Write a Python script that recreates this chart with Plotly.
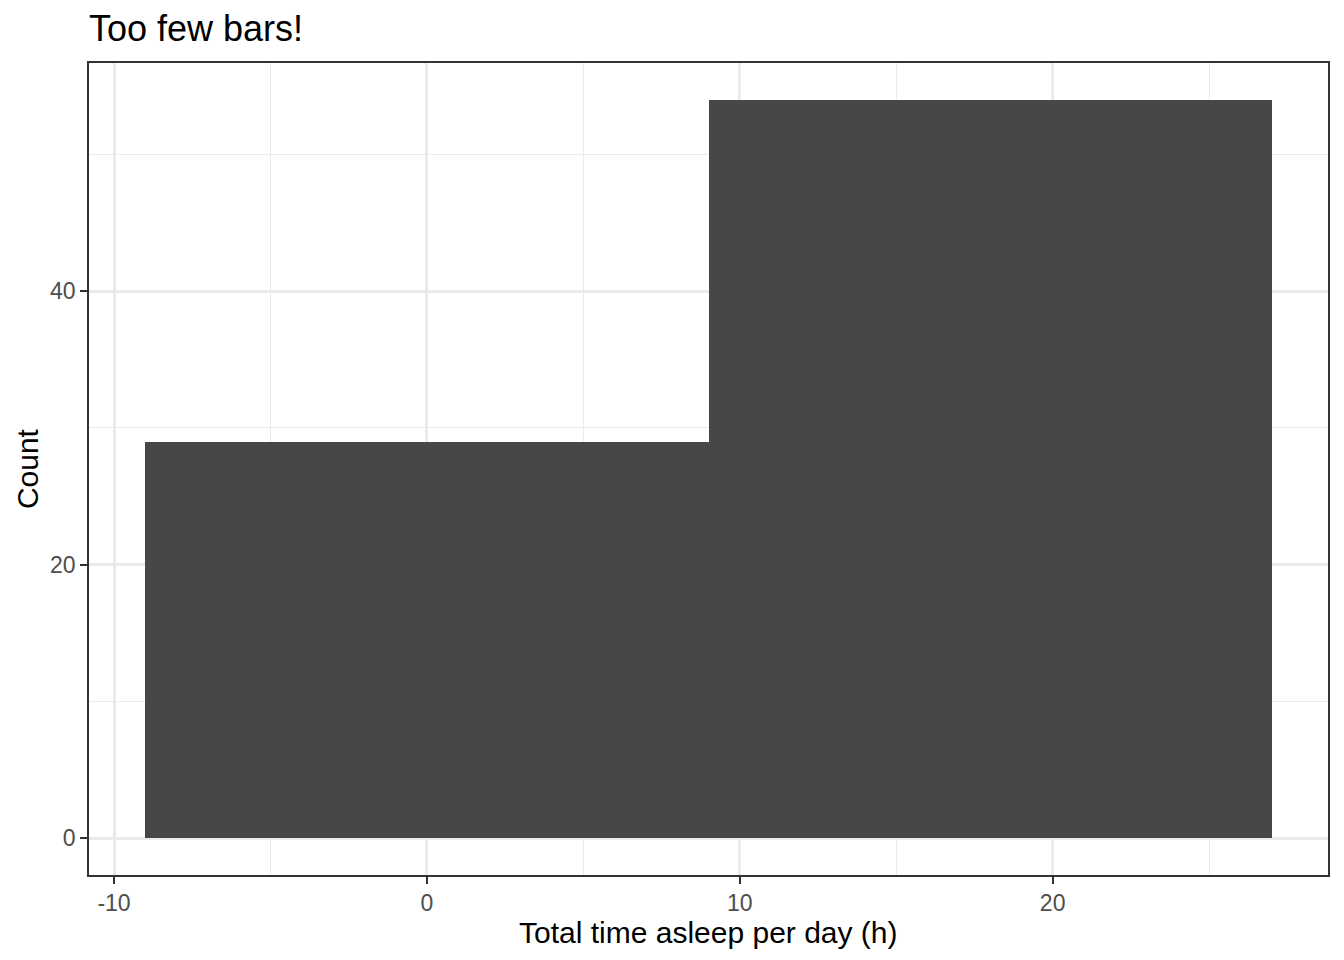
import plotly.graph_objects as go

# Histogram data (msleep total sleep, 2 bins)
bin_edges = [-9, 9, 27]
counts = [29, 54]
x_tick_vals = [-10, 0, 10, 20]
x_tick_text = ["-10", "0", "10", "20"]
x_minor_vals = [-5, 5, 15, 25]
y_tick_vals = [0, 20, 40]
y_tick_text = ["0", "20", "40"]
y_minor_vals = [10, 30, 50]
title_text = "Too few bars!"
x_title = "Total time asleep per day (h)"
y_title = "Count"

centers = [(bin_edges[i] + bin_edges[i + 1]) / 2 for i in range(len(counts))]
widths = [bin_edges[i + 1] - bin_edges[i] for i in range(len(counts))]

# page body has an 8px margin, so the figure is offset by 8px
OFF = 8
W, H = 1344 - 2 * OFF, 960 - 2 * OFF
L, R, T, B = 89 - OFF, 6, 63 - OFF, H - (875 - OFF)

fig = go.Figure()
fig.add_trace(go.Bar(
    x=centers, y=counts, width=widths,
    marker=dict(color="#474747", line=dict(width=0)),
    hoverinfo="skip",
))

span = bin_edges[-1] - bin_edges[0]
xr = [bin_edges[0] - 0.05 * span, bin_edges[-1] + 0.05 * span]
ymax = max(counts)
yr = [-0.05 * ymax, ymax * 1.05]

font_family = "Liberation Sans, Arial, sans-serif"

axis_common = dict(
    showline=True, mirror=True, linecolor="#333333", linewidth=1.5,
    ticks="outside", ticklen=7, tickwidth=2, tickcolor="#333333",
    tickfont=dict(family=font_family, size=23, color="#4D4D4D"),
    showgrid=True, gridcolor="#EBEBEB", gridwidth=2.5,
    zeroline=False,
    minor=dict(showgrid=True, gridcolor="#EBEBEB", gridwidth=1.2, ticks=""),
)

fig.update_xaxes(range=xr, tickmode="array", tickvals=x_tick_vals, ticktext=x_tick_text,
                 minor_tickvals=x_minor_vals, **axis_common)
fig.update_yaxes(range=yr, tickmode="array", tickvals=y_tick_vals, ticktext=y_tick_text,
                 minor_tickvals=y_minor_vals, **axis_common)

ph = H - T - B
pw = W - L - R
fig.update_layout(
    width=W, height=H,
    margin=dict(l=L, r=R, t=T, b=B),
    plot_bgcolor="white", paper_bgcolor="white",
    showlegend=False,
    bargap=0,
    title=dict(text=title_text, x=0, xref="paper", xanchor="left",
               y=1 - (28 - OFF) / H, yref="container", yanchor="middle",
               font=dict(family=font_family, size=36, color="black")),
    annotations=[
        dict(text=x_title, x=0.5, xref="paper", y=-((932 - OFF) - (H - B)) / ph,
             yref="paper", yanchor="middle", xanchor="center", showarrow=False,
             font=dict(family=font_family, size=30, color="black")),
        dict(text=y_title, x=((27 - OFF) - L) / pw, xref="paper", y=0.5, yref="paper",
             xanchor="center", yanchor="middle", textangle=-90, showarrow=False,
             font=dict(family=font_family, size=30, color="black")),
    ],
)

fig.write_html("out.html")
